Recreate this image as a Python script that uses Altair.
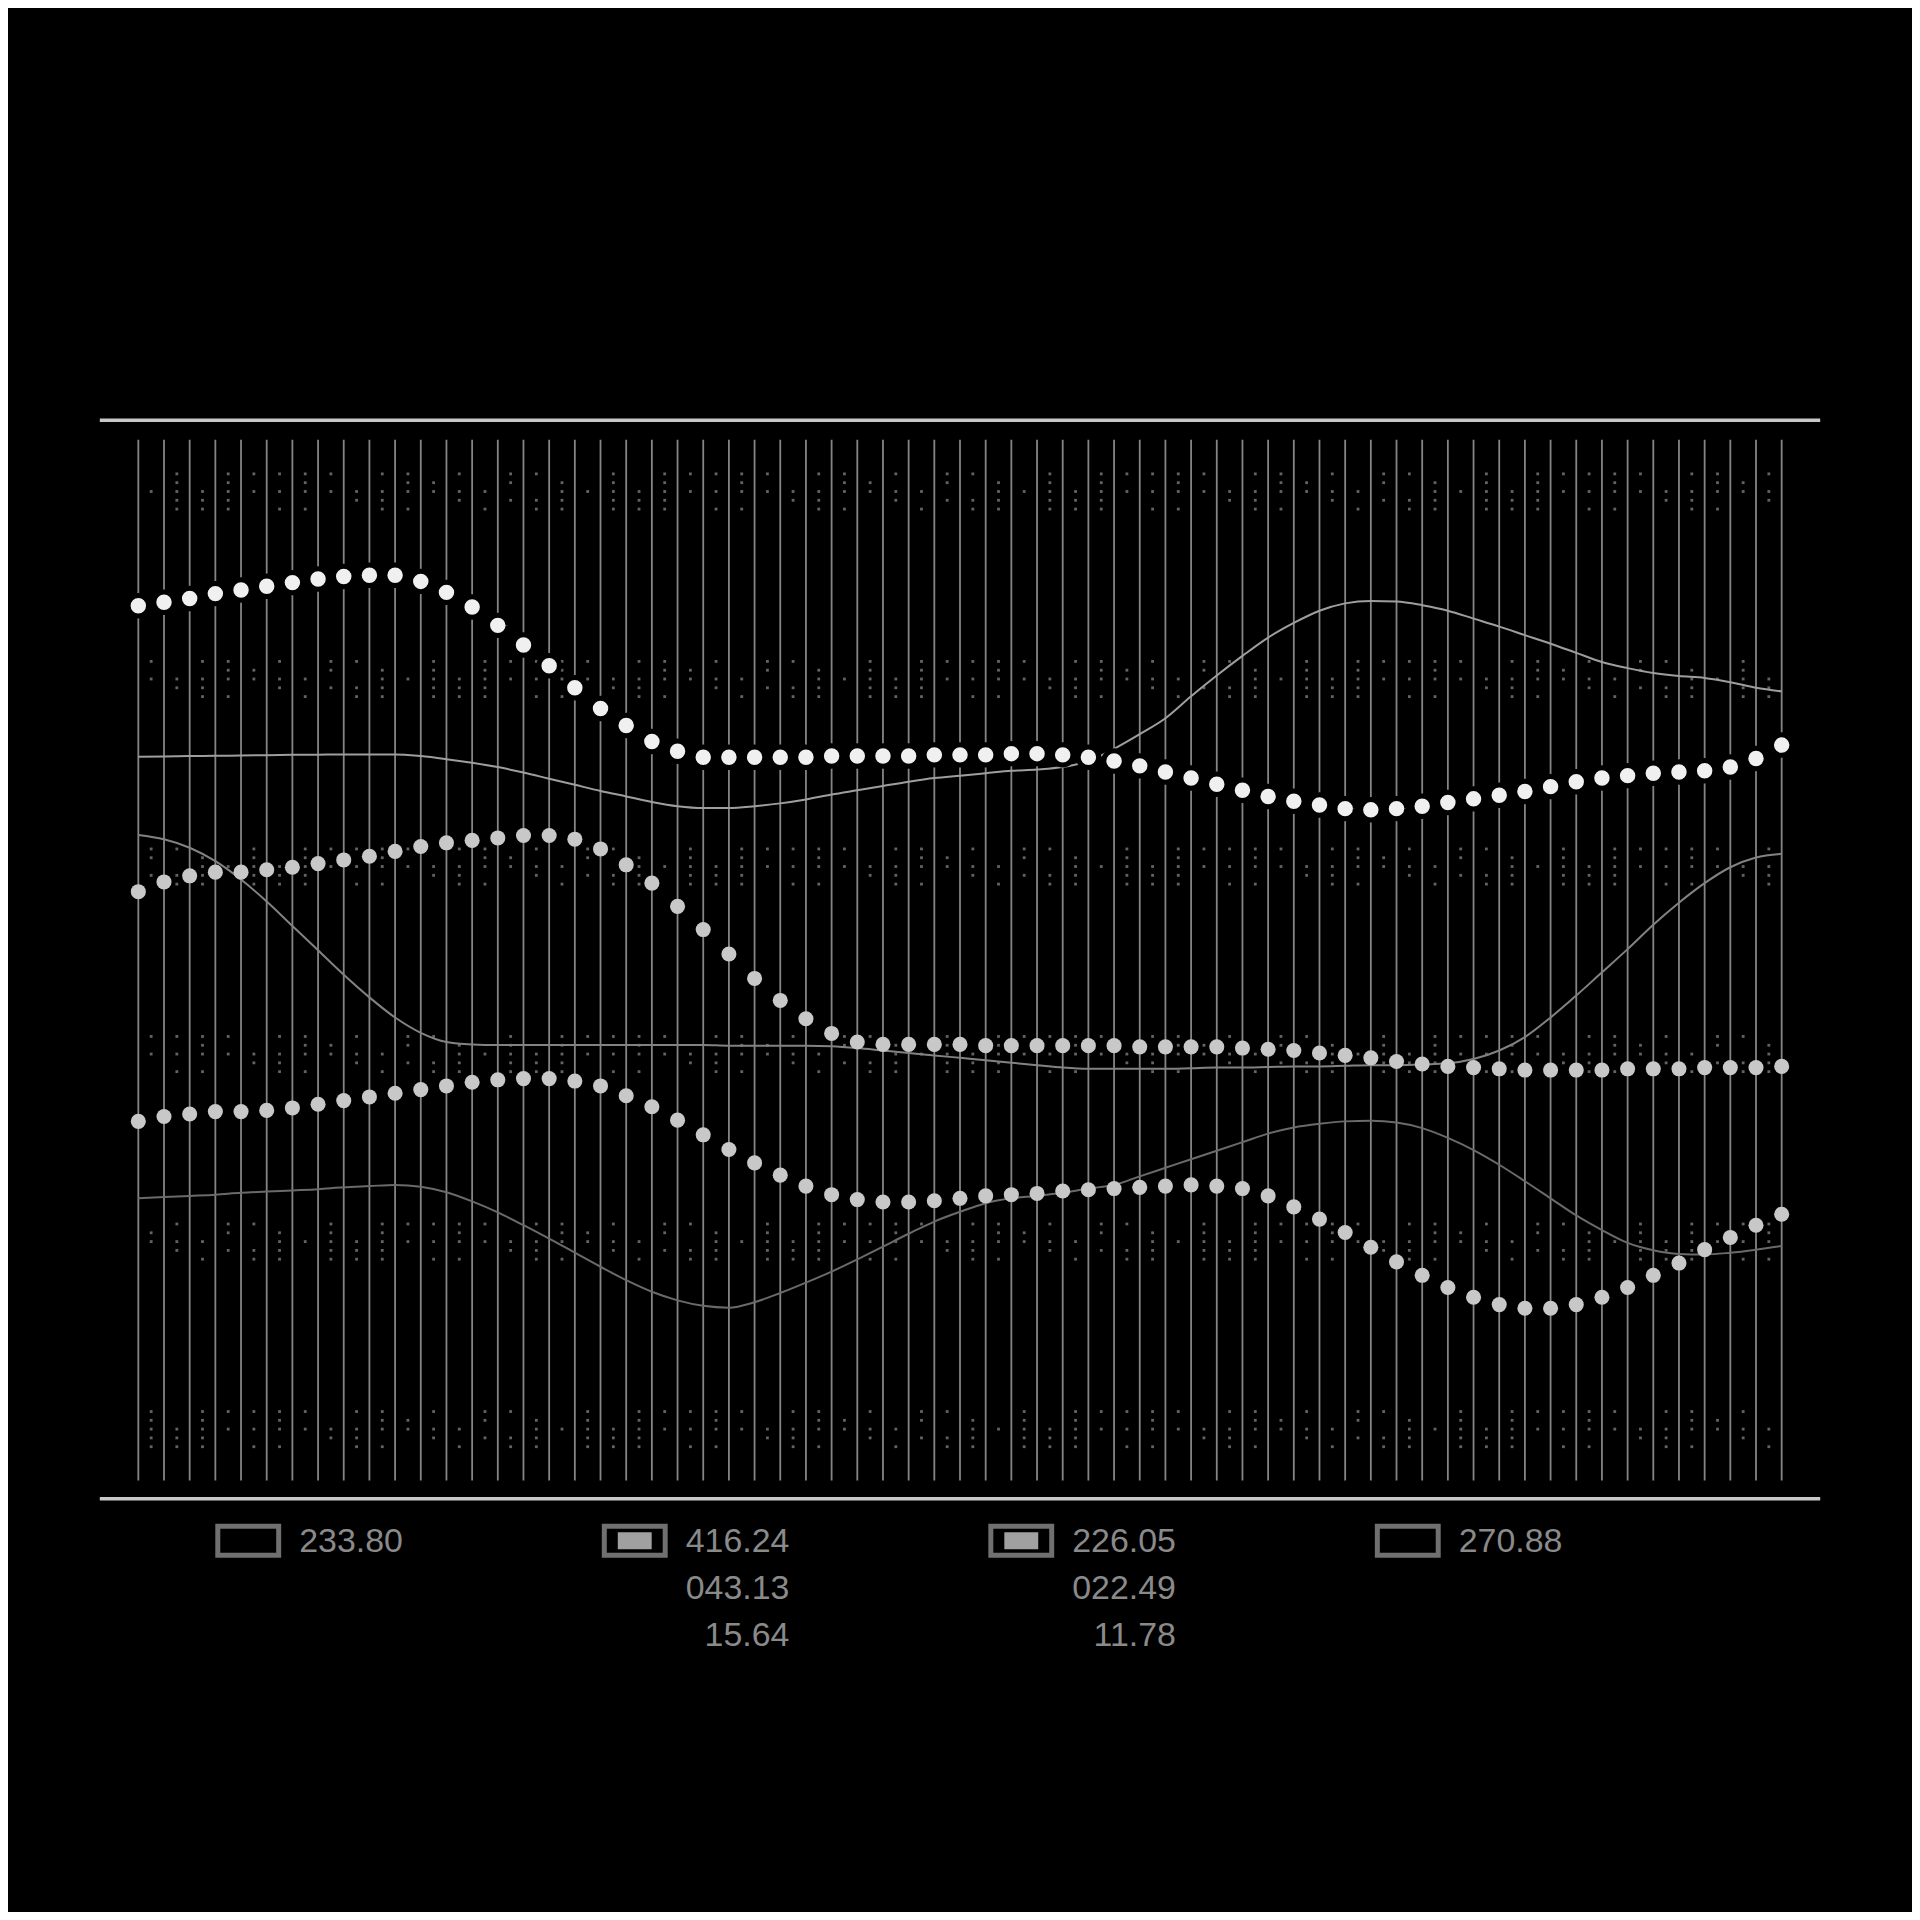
import altair as alt
import pandas as pd

# ---------------- data ----------------
IDX = list(range(65))

TOP = [731, 734, 737, 741, 744, 747, 750, 753, 755, 756, 756, 751, 742, 730, 715, 699,
       682, 664, 647, 633, 620, 612, 607, 607, 607, 607, 607, 608, 608, 608, 608, 609,
       609, 609, 610, 610, 609, 607, 604, 600, 595, 590, 585, 580, 575, 571, 568, 565,
       564, 565, 567, 570, 573, 576, 579, 583, 587, 590, 592, 594, 595, 596, 599, 606, 617]

MID = [497, 505, 510, 513, 513, 515, 517, 520, 523, 526, 530, 534, 537, 539, 541, 543,
       543, 540, 532, 519, 504, 485, 466, 446, 426, 408, 393, 381, 374, 372, 372, 372,
       372, 371, 371, 371, 371, 371, 371, 370, 370, 370, 370, 369, 368, 367, 365, 363,
       361, 358, 356, 354, 353, 352, 351, 351, 351, 351, 352, 352, 352, 353, 353, 353, 354]

LOW = [309, 313, 315, 317, 317, 318, 320, 323, 326, 329, 332, 335, 338, 341, 343, 344,
       344, 342, 338, 330, 321, 310, 298, 286, 275, 265, 256, 249, 245, 243, 243, 244,
       246, 248, 249, 250, 252, 253, 254, 255, 256, 257, 256, 254, 248, 239, 229, 218,
       206, 194, 183, 173, 165, 159, 156, 156, 159, 165, 173, 183, 193, 204, 214, 224, 233]

LINE_A = [607.5, 607.7, 608, 608.2, 608.5, 608.7, 609, 609.2, 609.4, 609.4, 609.4, 608,
          605.5, 602.5, 599, 594.5, 589.5, 584.5, 579.5, 575, 570.5, 567, 565.5, 565.5,
          567, 569.3, 572.5, 576.5, 580, 583.5, 587, 590, 592, 594, 596, 597, 599, 604,
          614, 626, 639, 657, 674, 690, 705, 717, 727, 733, 735, 734.5, 731.5, 727, 720.5,
          714, 707, 700, 692.5, 685, 680, 676, 673.5, 672, 668.5, 664, 661]

LINE_B = [543.5, 540, 533, 522, 507, 489, 469, 449, 429, 410.5, 394, 381.5, 374, 372,
          371.5, 371.5, 371.5, 371.5, 371.5, 371.5, 371.5, 371.5, 371.5, 371, 371, 371,
          371, 370.5, 369, 367, 365, 363, 361, 359, 357, 355, 353, 352, 352, 352, 352,
          352.5, 353, 353, 353.5, 354, 354, 354.5, 355, 355, 355.5, 356.5, 360, 367, 378,
          394, 412, 431, 450, 470, 488, 504, 517, 525, 528]

LINE_C = [246, 247, 248, 249, 250.5, 251.5, 252.5, 253.5, 255, 256, 257, 255.5, 251,
          243.5, 234.5, 224, 213, 201.5, 190, 179, 169.5, 162.5, 158, 156.5, 161, 168.5,
          177, 186, 196, 206.5, 217, 227, 235, 242, 246, 248, 250.5, 254, 257, 264, 271,
          278, 285, 292, 299, 304, 307, 309, 309.5, 308, 303.5, 295.5, 285.5, 273.5, 260,
          246, 232, 220, 209.5, 203.5, 200.5, 200, 201.5, 204, 207]

Y_MIN, Y_MAX = 0, 883          # value range between the two frame rules
GRID_LO, GRID_HI = 15, 867     # extent of the vertical grid rules

# dotted texture: top slot of each band and the slot step (value units)
BAND_TOPS = [839, 685.5, 532, 378.5, 225, 71.5]
SLOT_STEP = 7.2
PATTERNS = ["00100", "11111", "00111", "11111", "10100", "10101", "11101", "10100",
            "00110", "10111", "11101", "01100", "10110", "00101", "11010", "10011", "01111"]

# legend
LEG_FILLED = [False, True, True, False]
LEG_TEXT = [["233.80"], ["416.24", "043.13", "15.64"], ["226.05", "022.49", "11.78"], ["270.88"]]

# ---------------- tables ----------------
df_top = pd.DataFrame({"idx": IDX, "v": TOP})
df_mid = pd.DataFrame({"idx": IDX * 2, "v": MID + LOW})
df_a = pd.DataFrame({"idx": IDX, "v": LINE_A})
df_b = pd.DataFrame({"idx": IDX, "v": LINE_B})
df_c = pd.DataFrame({"idx": IDX, "v": LINE_C})
df_grid = pd.DataFrame({"idx": IDX, "lo": [GRID_LO] * 65, "hi": [GRID_HI] * 65})
df_frame = pd.DataFrame({"v": [Y_MIN, Y_MAX]})

tex_rows = []
for k, top in enumerate(BAND_TOPS):
    for c in range(64):
        pat = PATTERNS[(c + 7 * k) % len(PATTERNS)]
        for j, ch in enumerate(pat):
            if ch == "1":
                tex_rows.append({"x": c + 0.5, "y": top - j * SLOT_STEP})
df_tex = pd.DataFrame(tex_rows)

leg_rows = []
for i, texts in enumerate(LEG_TEXT):
    for r, t in enumerate(texts):
        leg_rows.append({"item": i, "row": r, "text": t})
df_leg_text = pd.DataFrame(leg_rows)
df_leg_box = pd.DataFrame({"item": [0, 1, 2, 3], "row": [0] * 4, "filled": LEG_FILLED})

# ---------------- scales ----------------
xs = alt.Scale(domain=[-1.5, 65.5], nice=False, zero=False)
ys = alt.Scale(domain=[Y_MIN, Y_MAX], nice=False, zero=False)

X = lambda f: alt.X(f, type="quantitative", scale=xs, axis=None)
Y = lambda f: alt.Y(f, type="quantitative", scale=ys, axis=None)

W, H = 1724, 1081

grid = alt.Chart(df_grid).mark_rule(color="#858585", strokeWidth=1.8).encode(
    x=X("idx"), y=Y("lo"), y2="hi")
texture = alt.Chart(df_tex).mark_square(size=8, color="#636363", opacity=1).encode(
    x=X("x"), y=Y("y"))
line_a = alt.Chart(df_a).mark_line(color="#9e9e9e", strokeWidth=2, interpolate="monotone").encode(
    x=X("idx"), y=Y("v"))
line_b = alt.Chart(df_b).mark_line(color="#828282", strokeWidth=2, interpolate="monotone").encode(
    x=X("idx"), y=Y("v"))
line_c = alt.Chart(df_c).mark_line(color="#6a6a6a", strokeWidth=2, interpolate="monotone").encode(
    x=X("idx"), y=Y("v"))
dots_low = alt.Chart(df_mid).mark_circle(size=228, color="#c8c8c8", opacity=1).encode(
    x=X("idx"), y=Y("v"))
dots_top = alt.Chart(df_top).mark_circle(size=420, fill="#f0f0f0", stroke="#000000",
                                         strokeWidth=5, fillOpacity=1, strokeOpacity=1).encode(
    x=X("idx"), y=Y("v"))
frame = alt.Chart(df_frame).mark_rule(color="#c8c8c8", strokeWidth=3.5).encode(y=Y("v"))

main = alt.layer(grid, texture, line_a, line_b, line_c, dots_low, dots_top, frame).properties(
    width=W, height=H)

# legend panel
lxs = alt.Scale(domain=[-0.384, 4.067], nice=False, zero=False)
lys = alt.Scale(domain=[-0.894, 2.723], nice=False, zero=False, reverse=True)
LX = alt.X("item:Q", scale=lxs, axis=None)
LY = alt.Y("row:Q", scale=lys, axis=None)

OUTER = "M-1,-0.475H1V0.475H-1Z"
INNER = "M-0.557,-0.279H0.557V0.279H-0.557Z"

box = alt.Chart(df_leg_box).mark_point(shape=OUTER, size=3721, filled=False, stroke="#707070",
                                       strokeWidth=5, opacity=1).encode(x=LX, y=LY)
inner = alt.Chart(df_leg_box).transform_filter("datum.filled").mark_point(
    shape=INNER, size=3721, filled=True, fill="#a0a0a0", strokeWidth=0, opacity=1).encode(x=LX, y=LY)
texts = alt.Chart(df_leg_text).mark_text(
    align="right", baseline="middle", dx=155, dy=1, fontSize=34,
    font="Liberation Sans, Arial, sans-serif",
    color="#8a8a8a").encode(x=LX, y=LY, text="text:N")

legend = alt.layer(box, inner, texts).properties(width=W, height=170)

chart = alt.vconcat(main, legend, spacing=0, bounds="flush").properties(
    background="#000000",
    padding={"left": 90, "top": 409, "right": 90, "bottom": 242},
).configure_view(stroke=None)

chart.save("out.html", embed_options={"renderer": "svg", "actions": False})
